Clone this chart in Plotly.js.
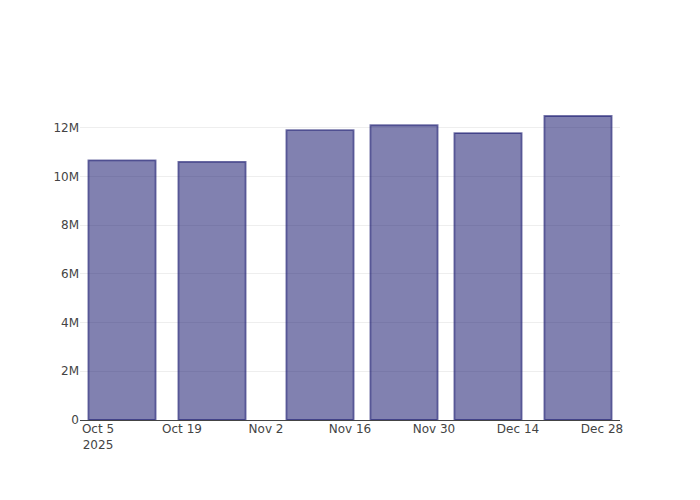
<!DOCTYPE html>
<html>
<head>
<meta charset="utf-8">
<script src="https://cdn.plot.ly/plotly-3.0.1.min.js"></script>
<style>
  html, body { margin: 0; padding: 0; background: #fff; }
  #chart { width: 700px; height: 500px; }
</style>
</head>
<body>
<div id="chart"></div>
<script>
// -----------------------
// Datos
// -----------------------
const fechas = ["2025-10-09", "2025-10-24", "2025-11-11", "2025-11-25", "2025-12-09", "2025-12-24"];
const valores = [10660000, 10600000, 11900000, 12100000, 11780000, 12480000];

// -----------------------
// Grafico
// -----------------------
const traza = {
  x: fechas,
  y: valores,
  type: "bar",
  marker: {
    color: "rgba(25,25,112,0.55)",
    line: { color: "rgba(25,25,112,0.6)", width: 1.8 }
  }
};

Plotly.newPlot("chart", [traza], {
  width: 700,
  height: 500,
  font: { family: "DejaVu Sans", size: 12, color: "#444" },
  xaxis: { type: "date" },
  yaxis: {},
  showlegend: false
}, { displayModeBar: false });
</script>
</body>
</html>
